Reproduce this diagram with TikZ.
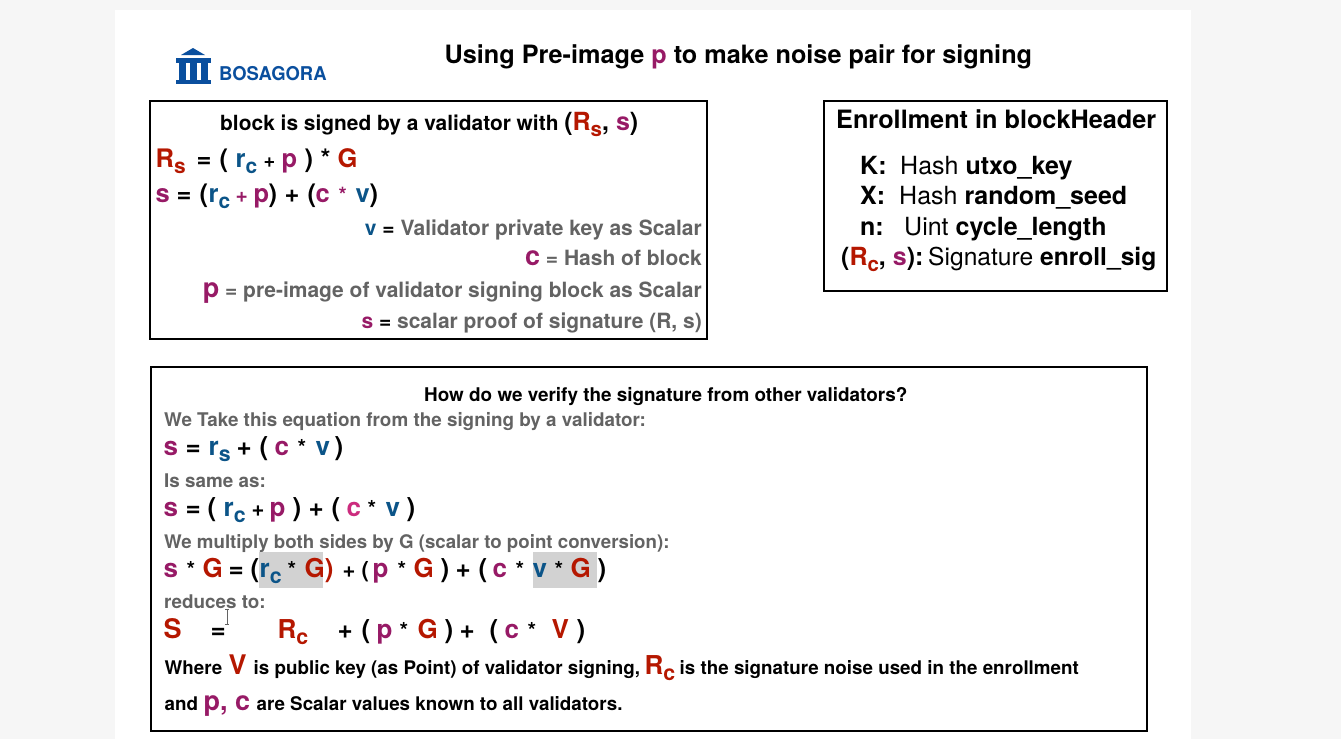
\documentclass[tikz,border=0pt]{standalone}
\usepackage{fontspec}
\usepackage{graphicx}
\setmainfont{TeX Gyre Heros}
\definecolor{rd}{HTML}{B51700}
\definecolor{pu}{HTML}{971A66}
\definecolor{bl}{HTML}{0B5488}
\definecolor{gy}{HTML}{636363}
\definecolor{pk}{HTML}{CC2C7E}
\definecolor{lg}{HTML}{0A4F9E}
\definecolor{hl}{HTML}{D2D2D2}
\definecolor{pg}{HTML}{F6F6F6}
\newcommand\fs[1]{\fontsize{#1}{#1}\selectfont}
\newcommand\Rd[1]{\textcolor{rd}{#1}}
\newcommand\Pu[1]{\textcolor{pu}{#1}}
\newcommand\Bl[1]{\textcolor{bl}{#1}}
\newcommand\Gy[1]{\textcolor{gy}{#1}}
\newcommand\Pk[1]{\textcolor{pk}{#1}}
\newcommand\Sb[1]{\raisebox{-0.25em}{\scalebox{0.82}{#1}}}
\newcommand\At[2]{\rlap{\hspace{#1pt}#2}}
\newcommand\Lb[2]{\makebox[#1pt][l]{#2}}
\tikzset{
  frame/.style={draw=black,line width=2pt,anchor=north west,inner sep=0pt,fill=white},
  txt/.style={anchor=base west,inner sep=0pt,font=\bfseries},
  txr/.style={anchor=base east,inner sep=0pt,font=\bfseries},
  shade/.style={fill=hl,draw=none,anchor=north west,inner sep=0pt,minimum width=64pt,minimum height=36pt},
}
\begin{document}
\begin{tikzpicture}[x=1pt,y=-1pt]
\useasboundingbox (0,0) rectangle (1341,739);
\fill[pg] (0,0) rectangle (1341,739);
\fill[white] (115,10) rectangle (1191,739);
% logo
\fill[lg] (193,48) -- (205,55) -- (181,55) -- cycle;
\fill[lg] (175.5,57.5) rectangle (211,62.5);
\fill[lg] (178.5,62.5) rectangle (186,80);
\fill[lg] (189.5,62.5) rectangle (197,80);
\fill[lg] (200.5,62.5) rectangle (208,80);
\fill[lg] (175.5,80) rectangle (211,84);
\node[txt,text=lg] (logo) at (219,80) {\fs{19}\scalebox{0.97}[1]{BOSAGORA}};
% title
\node[txt] (title) at (444.5,63.5) {\fs{25.25}Using Pre-image \Pu{p} to make noise pair for signing};
% boxes
\node[frame,minimum width=557pt,minimum height=238pt] (sign) at (149,100) {};
\node[frame,minimum width=343pt,minimum height=190pt] (enroll) at (823,100) {};
\node[frame,minimum width=996pt,minimum height=364pt] (verify) at (150,366) {};
% sign box
\node[txt] (s0) at (220,130) {\fs{20.9}block is signed by a validator with {\fs{25}(\Rd{R\Sb{s}}, \Pu{s})}};
\node[txt] (s1) at (155,167) {\fs{25.5}\At{0}{\Rd{R\Sb{s}}}\At{41}{=}\At{64}{(}\At{80}{\Bl{r\Sb{c}}}\At{108}{\fs{20}+}\At{126}{\Pu{p}}\At{149}{)}\At{165}{*}\At{182}{\Rd{G}}\hspace{202pt}};
\node[txt] (s2) at (155,202) {\fs{25.5}\At{0}{\Pu{s}}\At{21}{=}\At{44}{(}\At{53}{\Bl{r\Sb{c}}}\At{80}{\fs{21}\Pu{+}}\At{98}{\Pu{p}}\At{113}{)}\At{129}{+}\At{152}{(}\At{160}{\Pu{c}}\At{183}{\fs{21}\Pu{*}}\At{200}{\Bl{v}}\At{214}{)}\hspace{222pt}};
\node[txr] (s3) at (702,235) {\fs{21}\Bl{v} = \Gy{Validator private key as Scalar}};
\node[txr] (s4) at (702,265) {\fs{21}{\fs{27}\Pu{c}} \Gy{= Hash of block}};
\node[txr] (s5) at (702,297) {\fs{21}{\fs{27}\Pu{p}} \Gy{= pre-image of validator signing block as Scalar}};
\node[txr] (s6) at (702,328) {\fs{21}\Pu{s} = \Gy{scalar proof of signature (R, s)}};
% enroll box
\node[txt] (e0) at (836,128) {\fs{25.25}Enrollment in blockHeader};
\node[txt] (e1) at (860,174) {\fs{25}\Lb{40}{K:}\mdseries Hash \bfseries utxo\_key};
\node[txt] (e2) at (860,204) {\fs{25}\Lb{39}{X:}\mdseries Hash \bfseries random\_seed};
\node[txt] (e3) at (860,235) {\fs{25}\Lb{44}{n:}\mdseries Uint \bfseries cycle\_length};
\node[txt] (e4) at (841,265) {\fs{25}\Lb{87}{(\Rd{R\Sb{c}}, \Pu{s}):}\fs{24.6}\mdseries Signature \bfseries enroll\_sig};
% verify box
\node[txt] (v0) at (424,401) {\fs{18.9}How do we verify the signature from other validators?};
\node[txt,text=gy] (v1) at (164,426) {\fs{18.85}We Take this equation from the signing by a validator:};
\node[txt] (v2) at (163,455) {\fs{26}\At{0}{\Pu{s}}\At{22}{=}\At{45}{\Bl{r\Sb{s}}}\At{73}{+}\At{96}{(}\At{111}{\Pu{c}}\At{134}{\fs{22}*}\At{152}{\Bl{v}}\At{171}{)}\hspace{180pt}};
\node[txt,text=gy] (v3) at (164,487) {\fs{18.85}Is same as:};
\node[txt] (v4) at (163,516) {\fs{26}\At{0}{\Pu{s}}\At{22}{=}\At{44}{(}\At{60}{\Bl{r\Sb{c}}}\At{88}{\fs{22}+}\At{106}{\Pu{p}}\At{129}{)}\At{145}{+}\At{168}{(}\At{183}{\Pk{c}}\At{204}{\fs{22}*}\At{222}{\Bl{v}}\At{243}{)}\hspace{252pt}};
\node[txt,text=gy] (v5) at (164,548) {\fs{18.7}We multiply both sides by G (scalar to point conversion):};
\node[shade] (h1) at (259,552) {};
\node[shade] (h2) at (533,552) {};
\node[txt] (v6) at (163,577) {\fs{26}\At{0}{\Pu{s}}\At{23}{\fs{22}*}\At{39}{\Rd{G}}\At{65}{=}\At{87}{(}\At{96}{\Bl{r\Sb{c}}}\At{124}{\fs{22}*}\At{141}{\Rd{G)}}\At{179}{\fs{22}+}\At{198}{\fs{22}(}\At{209}{\Pu{p}}\At{234}{\fs{22}*}\At{250}{\Rd{G}}\At{277}{)}\At{292}{+}\At{315}{(}\At{329}{\Pu{c}}\At{352}{\fs{22}*}\At{369}{\Bl{v}}\At{391}{\fs{22}*}\At{407}{\Rd{G}}\At{434}{)}\hspace{442pt}};
\node[txt,text=gy] (v7) at (164,608) {\fs{18.85}reduces to:};
\node[txt] (v8) at (163,638) {\fs{26}\At{0}{\fs{27}\Rd{S}}\At{47}{=}\At{114}{\Rd{R\Sb{c}}}\At{174}{+}\At{198}{(}\At{213}{\Pu{p}}\At{236}{\fs{22}*}\At{254}{\Rd{G}}\At{281}{)}\At{296}{+}\At{326}{(}\At{341}{\Pu{c}}\At{364}{\fs{22}*}\At{388}{\Rd{V}}\At{413}{)}\hspace{421pt}};
\node[txt] (v9) at (164,674) {\fs{18.8}\At{0}{Where}\At{64}{\fs{27}\Rd{V}}\At{89}{is public key (as Point) of validator signing,}\At{480}{\fs{26}\Rd{R\Sb{c}}}\At{515}{is the signature noise used in the enrollment}\hspace{914pt}};
\node[txt] (v10) at (164,710) {\fs{18.8}\At{0}{and}\At{39}{\fs{27}\Pu{p, c}}\At{92}{are Scalar values known to all validators.}\hspace{460pt}};
% text cursor
\draw[gy,line width=.7pt] (225,609) -- (229,609) (227,609) -- (227,624) (225,624) -- (229,624);
\end{tikzpicture}
\end{document}
